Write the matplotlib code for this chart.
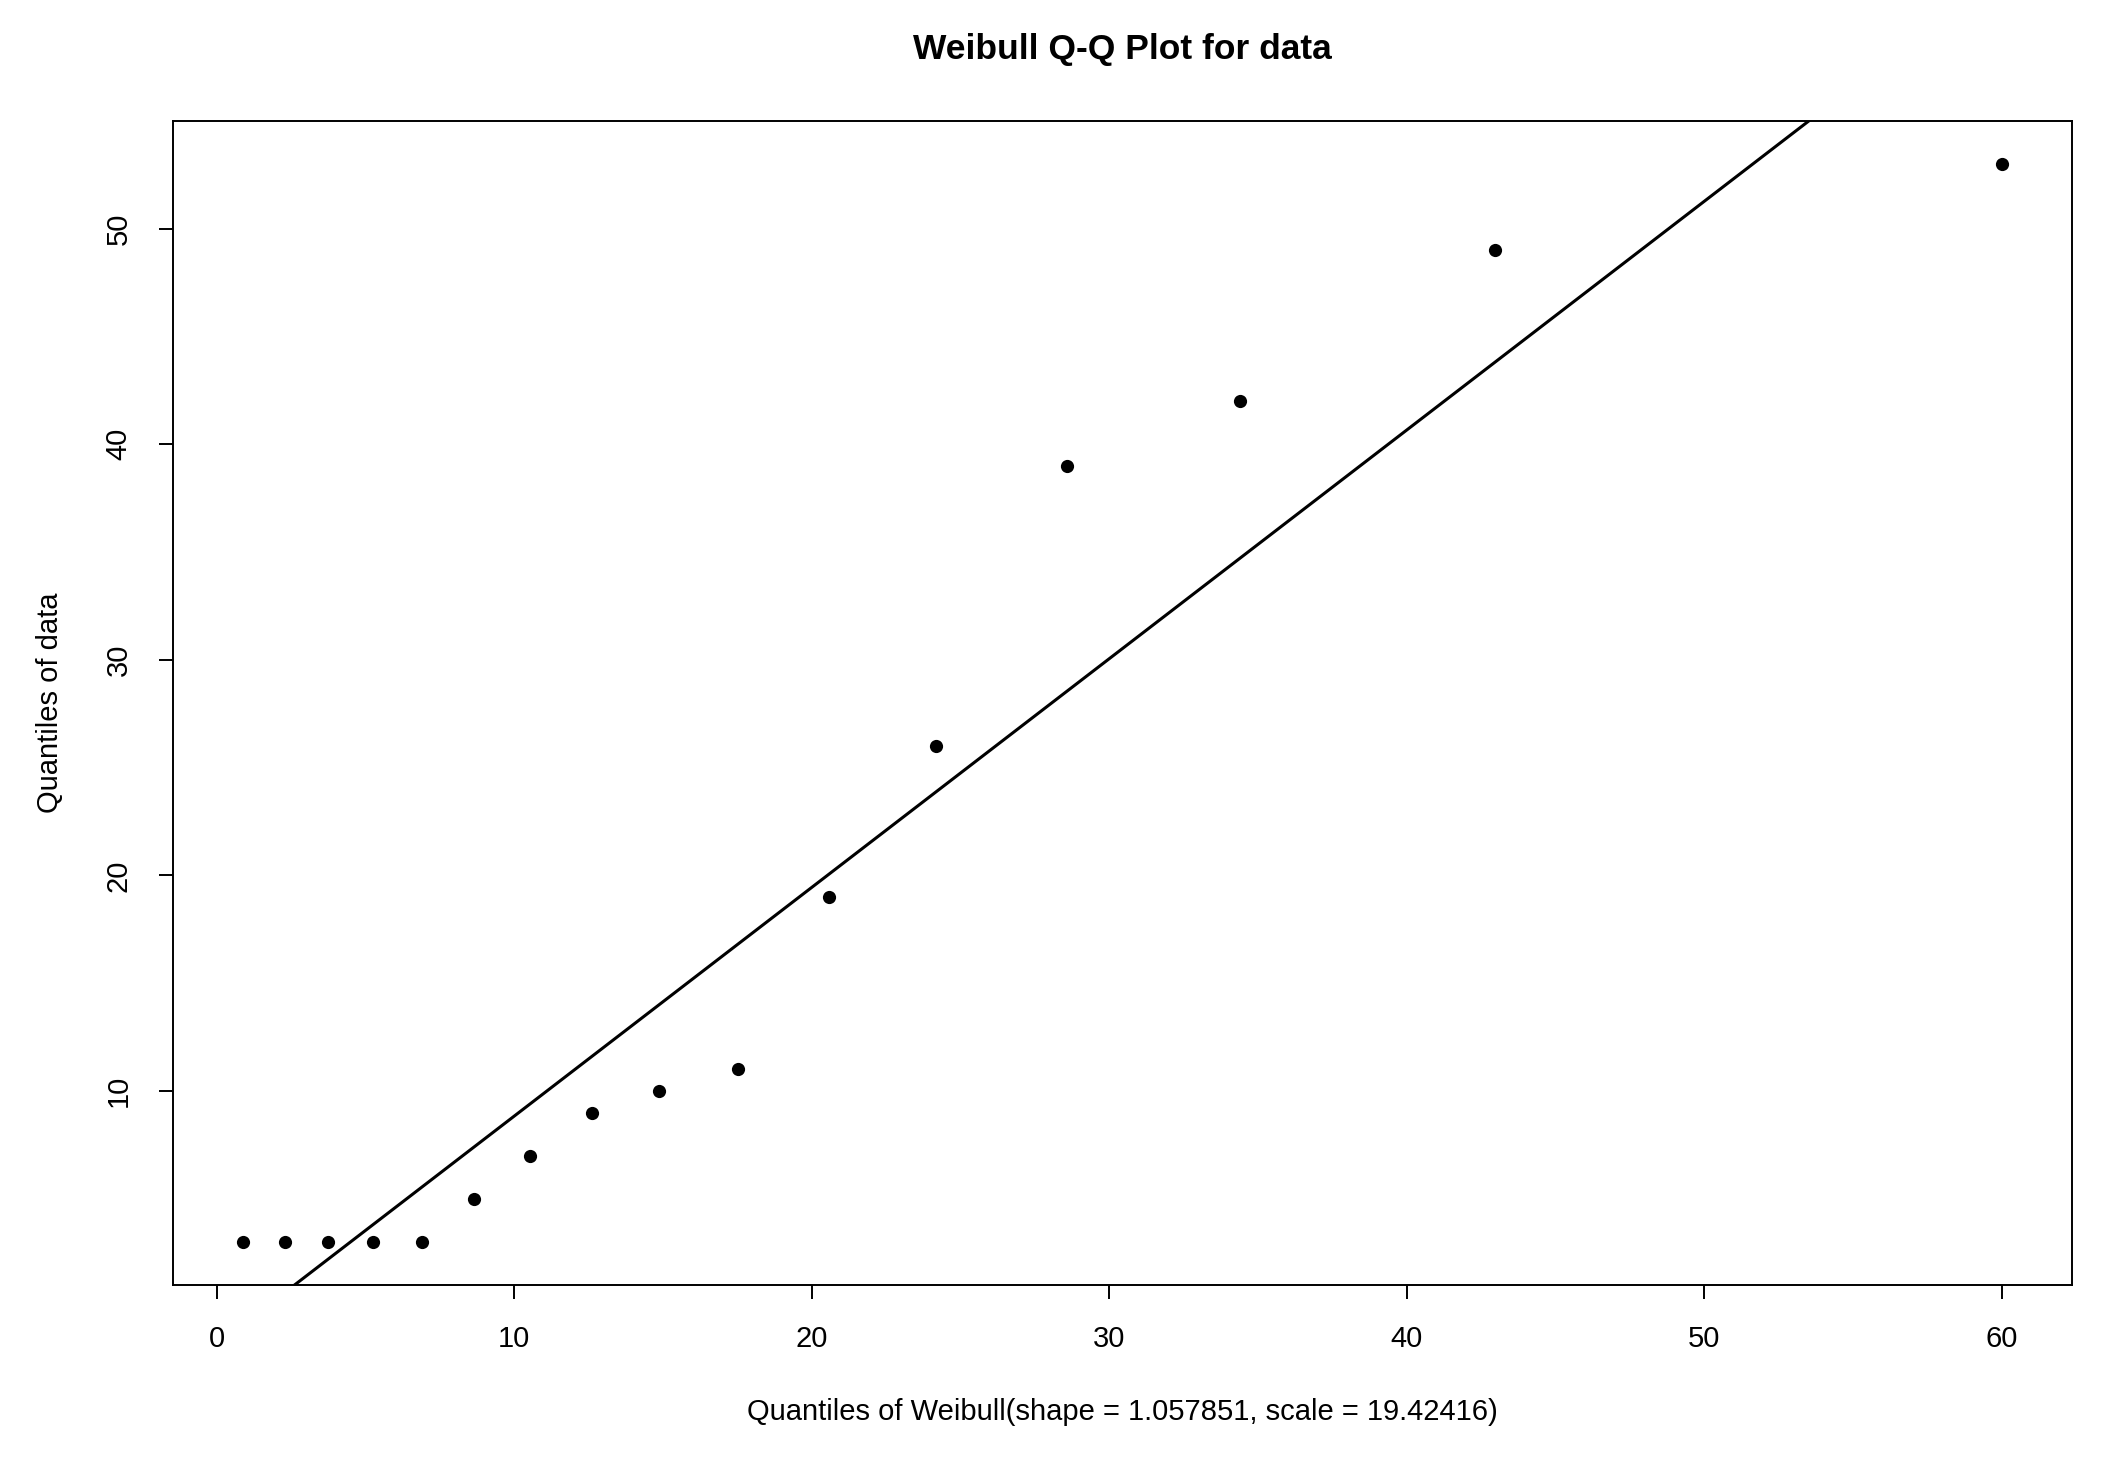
import matplotlib
matplotlib.use("Agg")
import matplotlib.pyplot as plt

# Data
weibull_quantiles = [0.90, 2.30, 3.74, 5.27, 6.90, 8.66, 10.55, 12.62, 14.88,
                     17.54, 20.60, 24.17, 28.58, 34.40, 42.97, 60.00]
data_quantiles = [3, 3, 3, 3, 3, 5, 7, 9, 10, 11, 19, 26, 39, 42, 49, 53]
qq_slope = 1.061
qq_intercept = -1.78
x_ticks = [0, 10, 20, 30, 40, 50, 60]
y_ticks = [10, 20, 30, 40, 50]

title = "Weibull Q-Q Plot for data"
xlabel = "Quantiles of Weibull(shape = 1.057851, scale = 19.42416)"
ylabel = "Quantiles of data"

plt.rcParams['font.family'] = ['Liberation Sans', 'DejaVu Sans']

W, H = 2103, 1459
fig = plt.figure(figsize=(W / 100, H / 100), dpi=100)
L, R, T, B = 173, 2072, 121, 1285
ax = fig.add_axes([L / W, 1 - B / H, (R - L) / W, (B - T) / H])

ax.plot(weibull_quantiles, data_quantiles, linestyle='none', marker='o',
        markersize=9.5, color='black', markeredgewidth=0)
ax.axline((0, qq_intercept), slope=qq_slope, color='black', linewidth=2.2)

# R-style 4% padding
xmin, xmax = min(weibull_quantiles), max(weibull_quantiles)
ymin, ymax = min(data_quantiles), max(data_quantiles)
dx, dy = (xmax - xmin) * 0.04, (ymax - ymin) * 0.04
ax.set_xlim(xmin - dx, xmax + dx)
ax.set_ylim(ymin - dy, ymax + dy)

ax.set_xticks(x_ticks)
ax.set_yticks(y_ticks)
ax.tick_params(axis='both', direction='out', length=10, width=1.4,
               labelsize=21, color='black')
ax.tick_params(axis='x', pad=19)
ax.tick_params(axis='y', pad=19)
for lbl in ax.get_yticklabels():
    lbl.set_rotation(90)
    lbl.set_va('center')
for s in ax.spines.values():
    s.set_linewidth(1.4)
    s.set_color('black')

cx = (L + R) / 2 / W
cy = 1 - (T + B) / 2 / H
fig.text(cx, 1 - 50 / H, title, ha='center', va='center',
         fontsize=25.5, fontweight='bold')
fig.text(cx, 1 - 1412 / H, xlabel, ha='center', va='center', fontsize=21)
fig.text(50 / W, cy, ylabel, ha='center', va='center', rotation=90,
         fontsize=21)

fig.savefig("out.png", dpi=100, facecolor='white')
